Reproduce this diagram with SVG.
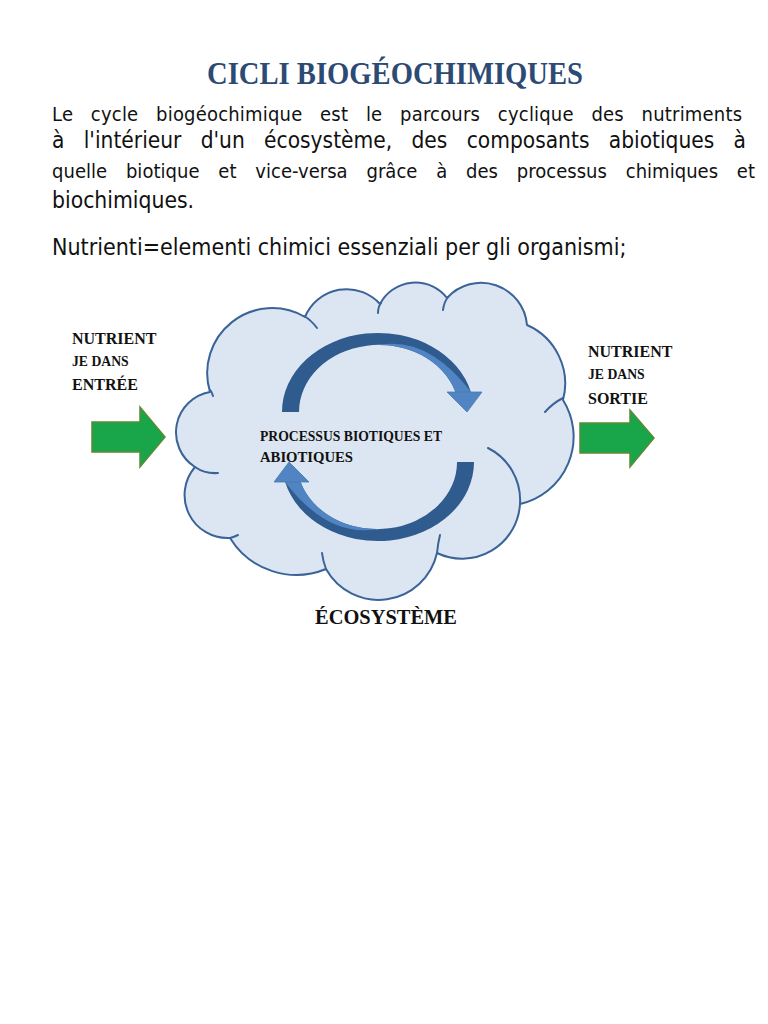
<svg xmlns="http://www.w3.org/2000/svg" width="768" height="1024" viewBox="0 0 768 1024">
<style>
.body{font-family:"DejaVu Sans","Liberation Sans",sans-serif;fill:#111}
.lbl{font-family:"Liberation Serif","Times New Roman",serif;font-weight:bold;fill:#111}
.cloud{fill:#dce6f2;stroke:#3a6398;stroke-width:2;stroke-linejoin:round}
.tick{fill:none;stroke:#3a6398;stroke-width:2;stroke-linecap:round}
.green{fill:#19a64a;stroke:#5b8a36;stroke-width:1.5}
.dark{fill:#2f5b8e}
.light{fill:#5084c2}
</style>
<defs>
<g id="curvedArrow">
<path class="dark" d="M282,412 A96,79 0 0 1 470.9,392 L455.4,392 A80,67 0 0 0 299,412 Z"/>
<path class="light" d="M379,345 Q428,336 471,392 L455.4,392 A80,67 0 0 0 379,345 Z"/>
<path class="light" d="M447,392 L482,392 L467,412 Z" stroke="#4a78b0" stroke-width="0.8"/>
</g>
</defs>
<rect width="768" height="1024" fill="#ffffff"/>
<g id="title">
<text x="207" y="84" class="lbl" style="fill:#2c4a74" font-size="31" textLength="376" lengthAdjust="spacingAndGlyphs">CICLI BIOGÉOCHIMIQUES</text>
</g>
<g id="paragraph" transform="scale(0.9,1)">
<text x="57.8" y="121" class="body" font-size="20" word-spacing="13.1" textLength="766.7" lengthAdjust="spacing">Le cycle biogéochimique est le parcours cyclique des nutriments</text>
<text x="57.8" y="148" class="body" font-size="22.5" word-spacing="14.3" textLength="771.1" lengthAdjust="spacing">à l'intérieur d'un écosystème, des composants abiotiques à</text>
<text x="57.8" y="178" class="body" font-size="20" word-spacing="14.5" textLength="781.1" lengthAdjust="spacing">quelle biotique et vice-versa grâce à des processus chimiques et</text>
<text x="57.8" y="208" class="body" font-size="22.7">biochimiques.</text>
<text x="57.8" y="255" class="body" font-size="23">Nutrienti=elementi chimici essenziali per gli organismi;</text>
</g>
<g id="ecosysteme">
<path class="cloud" d="M195,467 A41,41 0 0 1 210,392 A65,65 0 0 1 305,317 A45,45 0 0 1 380,304 A40,40 0 0 1 447,298 A46,46 0 0 1 527,325 A64,64 0 0 1 563,400 A69,69 0 0 1 520,504 A58,58 0 0 1 437,553 A60,60 0 0 1 326,569 A78,78 0 0 1 230,538 A43,43 0 0 1 195,467 Z"/>
<path class="tick" d="M195,467 Q205,474 218,473"/>
<path class="tick" d="M210,390 Q211,390 213,396"/>
<path class="tick" d="M304,316 Q311,320 317,328"/>
<path class="tick" d="M381,303 Q378,307 378,313"/>
<path class="tick" d="M448,297 Q444,302 443,310"/>
<path class="tick" d="M563,398 Q553,403 545,412"/>
<path class="tick" d="M488,448 A58.4,58.4 0 0 1 520,504"/>
<path class="tick" d="M437,553 Q438,543 440,535"/>
<path class="tick" d="M326,569 Q323,561 322,553"/>
<path class="tick" d="M230,538 Q234,537 238,535"/>
<text x="315" y="624" class="lbl" font-size="20.5" textLength="142" lengthAdjust="spacingAndGlyphs">ÉCOSYSTÈME</text>
</g>
<g id="connectors">
<use href="#curvedArrow"/>
<use href="#curvedArrow" transform="rotate(180 378 437)"/>
<path class="green" d="M92,422 L140,422 L140,407 L165,437 L140,467 L140,452 L92,452 Z"/>
<path class="green" d="M580,423 L630,423 L630,410 L654,438 L630,467 L630,453 L580,453 Z"/>
</g>
<g id="processus">
<text x="260" y="441" class="lbl" font-size="14.5" textLength="182" lengthAdjust="spacingAndGlyphs">PROCESSUS BIOTIQUES ET</text>
<text x="260" y="462" class="lbl" font-size="14.5" textLength="93" lengthAdjust="spacingAndGlyphs">ABIOTIQUES</text>
</g>
<g id="entree">
<text x="72" y="344" class="lbl" font-size="16">NUTRIENT</text>
<text x="72" y="366" class="lbl" font-size="13.7">JE DANS</text>
<text x="72" y="390" class="lbl" font-size="16">ENTRÉE</text>
</g>
<g id="sortie">
<text x="588" y="357" class="lbl" font-size="16">NUTRIENT</text>
<text x="588" y="379" class="lbl" font-size="13.7">JE DANS</text>
<text x="588" y="404" class="lbl" font-size="16">SORTIE</text>
</g>
</svg>
